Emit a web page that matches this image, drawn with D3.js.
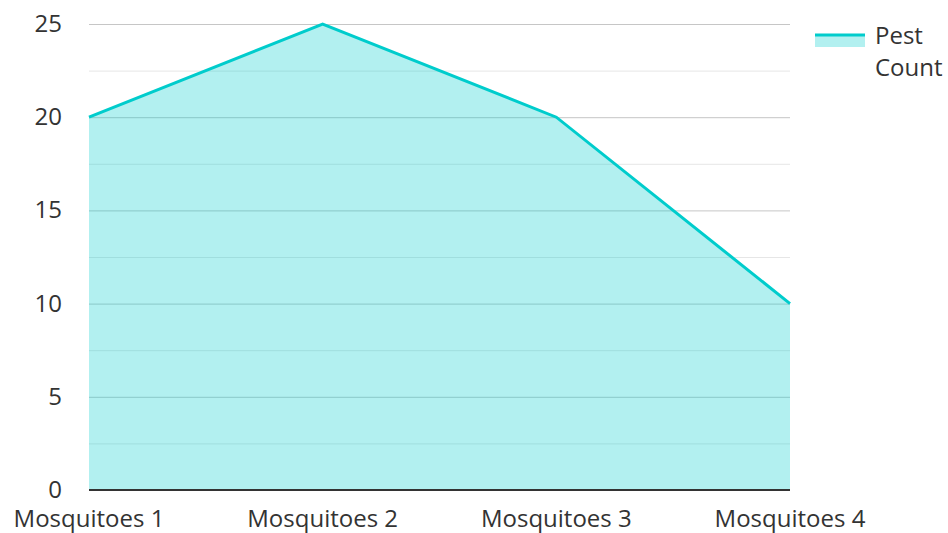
<!DOCTYPE html>
<html lang="en">
<head>
<meta charset="UTF-8">
<title>Pest Count</title>
<script src="https://cdn.jsdelivr.net/npm/d3@7"></script>
<style>
  body { margin: 0; background: #fff; }
  text { font-family: "Open Sans", sans-serif; fill: #333; }
</style>
</head>
<body>
<script>
const categories = ['Mosquitoes 1', 'Mosquitoes 2', 'Mosquitoes 3', 'Mosquitoes 4'];
const pestCount = [20, 25, 20, 10];
const yTicks = [0, 5, 10, 15, 20, 25];
const seriesName = ['Pest', 'Count'];

const width = 948, height = 533;
const plotLeft = 89, plotRight = 790, plotTop = 24, plotBottom = 490;
const lineColor = '#00cccc';

const svg = d3.select('body').append('svg')
  .attr('width', width).attr('height', height);

const x = d3.scalePoint().domain(categories).range([plotLeft, plotRight]);
const y = d3.scaleLinear().domain([0, 25]).range([plotBottom, plotTop]);

// gridlines (major + minor)
const minor = d3.range(2.5, 25, 5);
svg.selectAll('.minor').data(minor).enter().append('line')
  .attr('x1', plotLeft).attr('x2', plotRight)
  .attr('y1', d => y(d) + 0.5).attr('y2', d => y(d) + 0.5)
  .attr('stroke', '#e6e6e6').attr('stroke-width', 1);
svg.selectAll('.major').data(yTicks.filter(d => d > 0)).enter().append('line')
  .attr('x1', plotLeft).attr('x2', plotRight)
  .attr('y1', d => y(d) + 0.5).attr('y2', d => y(d) + 0.5)
  .attr('stroke', '#c6c6c6').attr('stroke-width', 1);

const data = categories.map((c, i) => ({ c: c, v: pestCount[i] }));

svg.append('path').datum(data)
  .attr('fill', lineColor).attr('fill-opacity', 0.3)
  .attr('d', d3.area().x(d => x(d.c)).y0(y(0)).y1(d => y(d.v)));

svg.append('path').datum(data)
  .attr('fill', 'none').attr('stroke', lineColor).attr('stroke-width', 3)
  .attr('d', d3.line().x(d => x(d.c)).y(d => y(d.v)));

// baseline
svg.append('line')
  .attr('x1', plotLeft).attr('x2', plotRight)
  .attr('y1', plotBottom).attr('y2', plotBottom)
  .attr('stroke', '#333').attr('stroke-width', 2);

// y labels
svg.selectAll('.ylab').data(yTicks).enter().append('text')
  .attr('x', 62).attr('y', d => y(d) + 8)
  .attr('text-anchor', 'end').attr('font-size', 24)
  .text(d => d);

// x labels
svg.selectAll('.xlab').data(categories).enter().append('text')
  .attr('x', d => x(d)).attr('y', 527)
  .attr('text-anchor', 'middle').attr('font-size', 24)
  .text(d => d);

// legend
svg.append('rect').attr('x', 815).attr('y', 35).attr('width', 50).attr('height', 12)
  .attr('fill', lineColor).attr('fill-opacity', 0.3);
svg.append('line').attr('x1', 815).attr('x2', 865).attr('y1', 35).attr('y2', 35)
  .attr('stroke', lineColor).attr('stroke-width', 3);
svg.selectAll('.leg').data(seriesName).enter().append('text')
  .attr('x', 875).attr('y', (d, i) => 44 + i * 32)
  .attr('font-size', 24)
  .text(d => d);
</script>
</body>
</html>
